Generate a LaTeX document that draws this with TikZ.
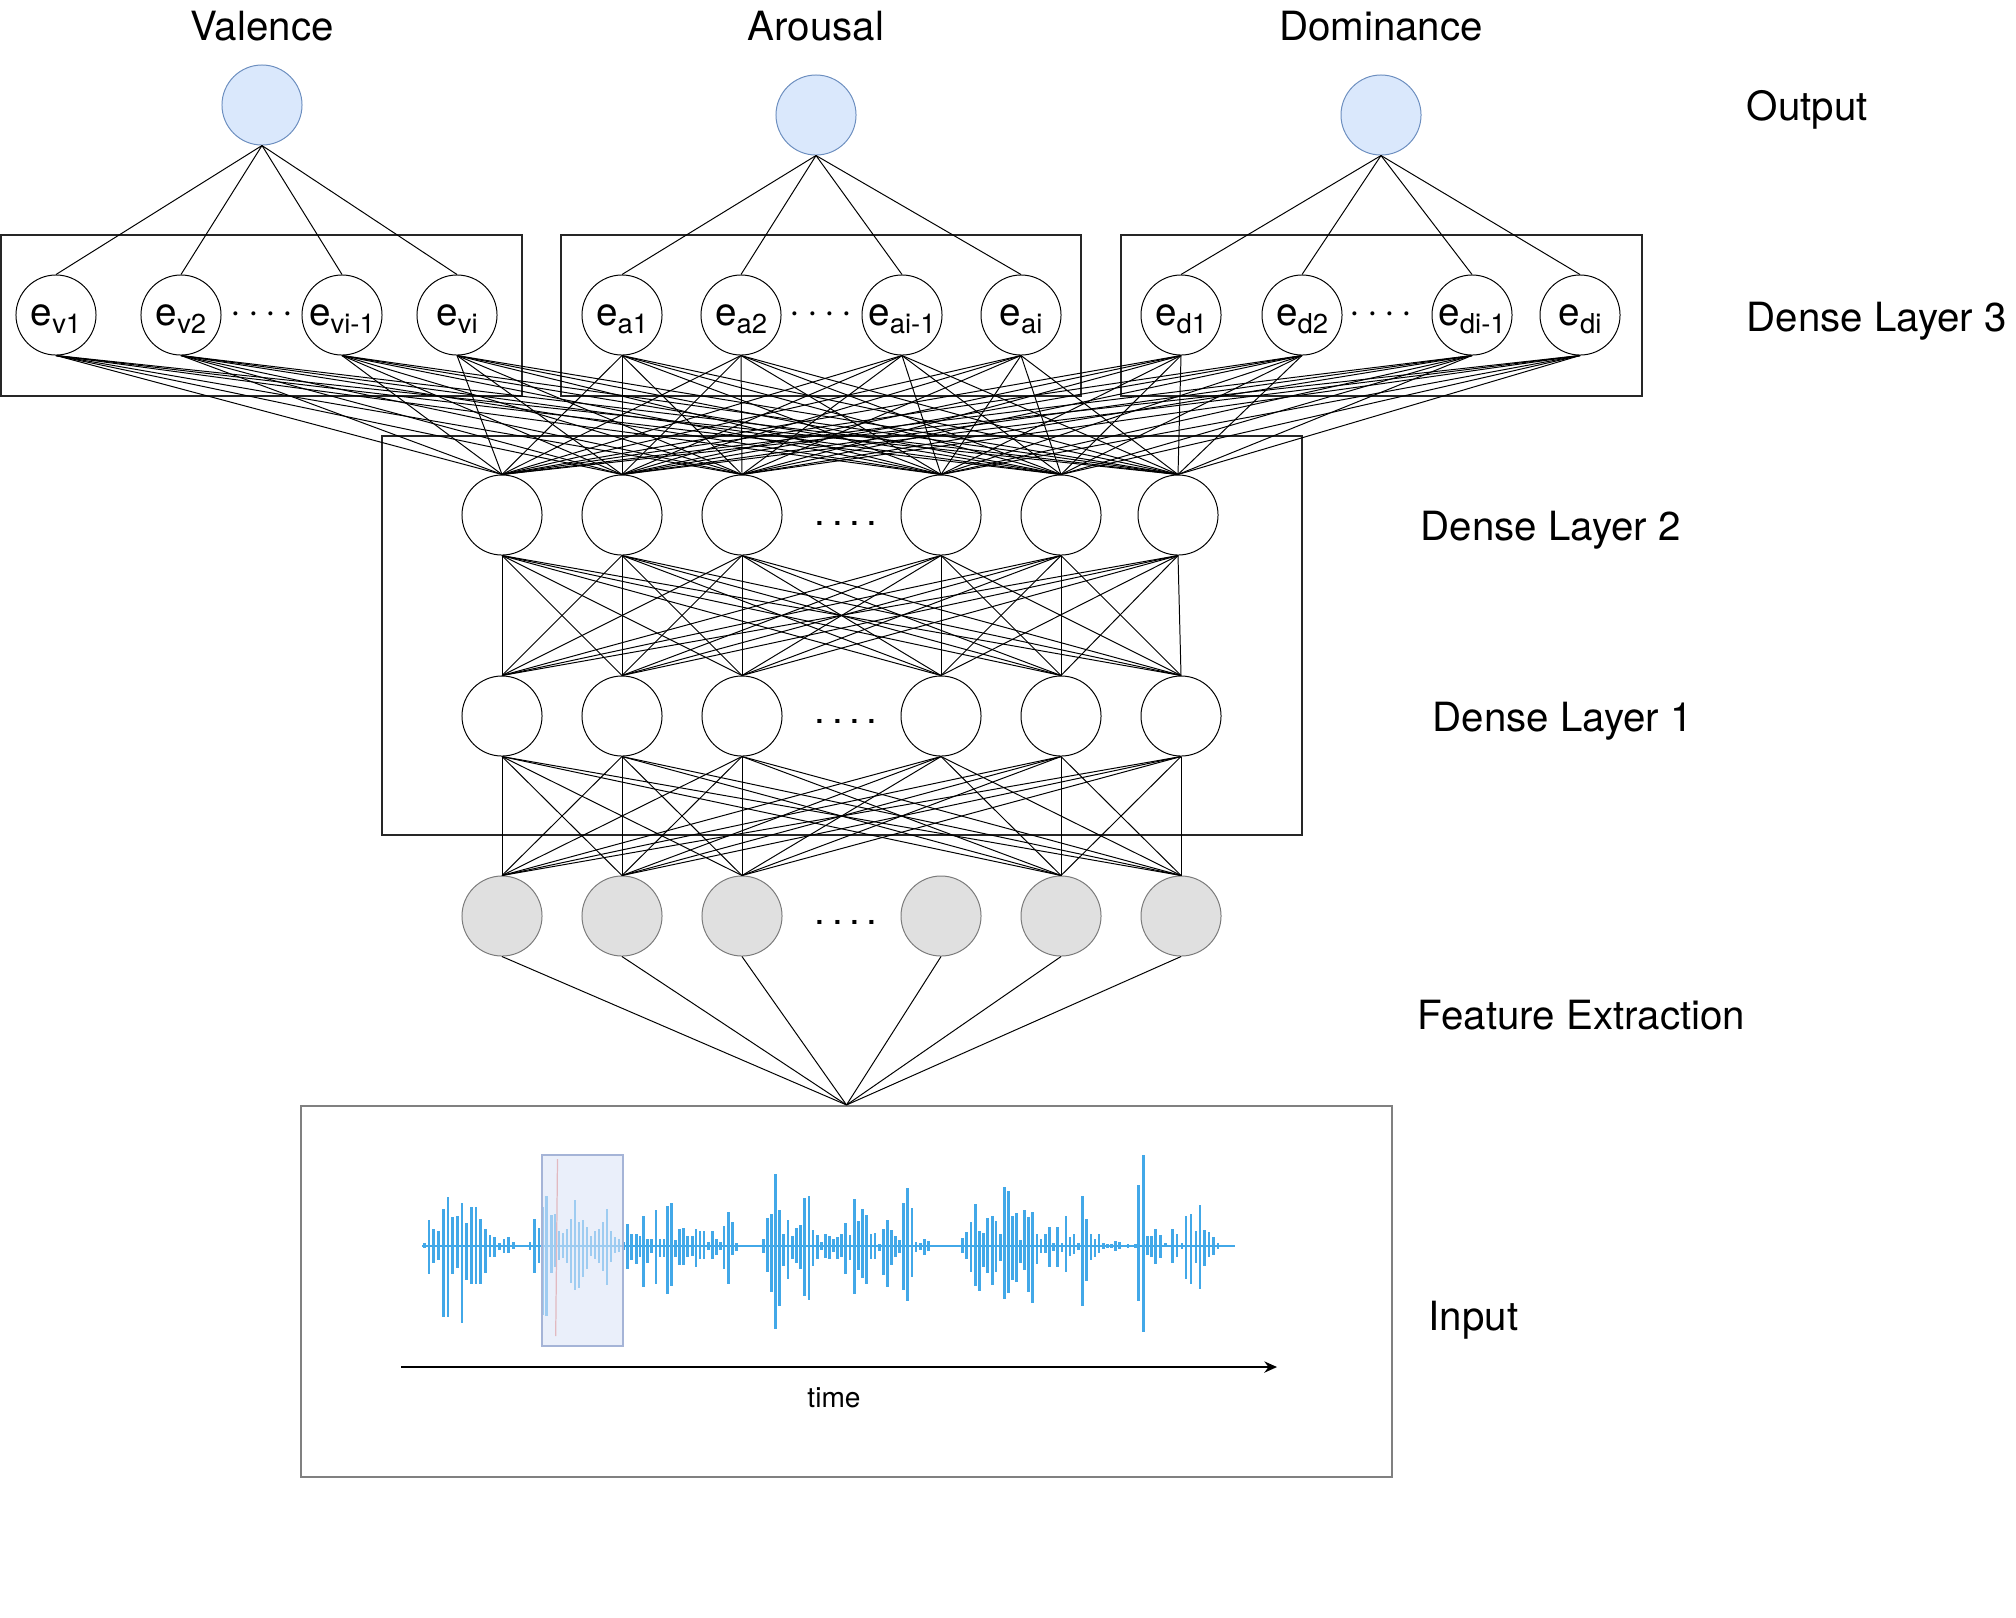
\documentclass[tikz,border=0pt]{standalone}
\usepackage{fontspec}
\setmainfont{TeX Gyre Heros}
\usetikzlibrary{arrows.meta, positioning}
\definecolor{outfill}{HTML}{DAE8FC}
\definecolor{outline}{HTML}{6C8EBF}
\definecolor{featfill}{HTML}{E0E0E0}
\definecolor{featline}{HTML}{7A7A7A}
\definecolor{wave}{RGB}{66,168,232}
\definecolor{winfill}{RGB}{220,229,247}
\definecolor{winline}{RGB}{165,180,215}
\definecolor{cursor}{RGB}{235,120,110}
\tikzset{
  neuron/.style={draw, circle, minimum size=0.8cm, inner sep=0pt, line width=0.28pt},
  outnode/.style={neuron, fill=outfill, draw=outline},
  enode/.style={neuron, font=\fontsize{11}{12}\selectfont, text depth=0pt},
  hidden/.style={neuron, fill=white},
  feat/.style={neuron, fill=featfill, draw=featline},
  groupbox/.style={draw=black!85, line width=0.5pt},
  inputbox/.style={draw=black!50, line width=0.55pt, minimum width=10.91cm, minimum height=3.71cm},
  link/.style={line width=0.28pt},
  sidelabel/.style={font=\fontsize{11.45}{13}\selectfont, anchor=base west, inner sep=0pt},
  toplabel/.style={font=\fontsize{11.45}{13}\selectfont, anchor=base, inner sep=0pt},
  dotrow/.style={font=\fontsize{11}{12}\selectfont, anchor=base, inner sep=0pt},
  wavebar/.style={draw=wave, line width=0.8pt},
  timeline/.style={-{Stealth[length=3.6pt, width=3.2pt]}, line width=0.55pt},
}
\newcommand{\esub}[1]{e\raisebox{-2.4pt}{\fontsize{7.8}{8}\selectfont #1}}

\begin{document}
\begin{tikzpicture}[x=0.01cm, y=-0.01cm]
  \useasboundingbox (0,0) rectangle (2016,1617);

  % boxes
  \draw[groupbox] (1,235) rectangle (522,396);
  \draw[groupbox] (561,235) rectangle (1081,396);
  \draw[groupbox] (1121,235) rectangle (1642,396);
  \draw[groupbox] (382,436) rectangle (1302,835);
  \node[inputbox] (input) at (846.5,1291.5) {};

  % output layer
  \node[toplabel] (valtxt) at (262,40) {Valence};
  \node[toplabel] (arotxt) at (816,40) {Arousal};
  \node[toplabel] (domtxt) at (1381,40) {Dominance};
  \node[outnode] (val) at (262,105) {};
  \node[outnode] (aro) at (816,115) {};
  \node[outnode] (dom) at (1381,115) {};

  % dense layer 3
  \foreach \i/\x/\lab in {1/56/v1, 2/181/v2, 3/342/vi-1, 4/457/vi,
                          5/622/a1, 6/741/a2, 7/902/ai-1, 8/1021/ai,
                          9/1181/d1, 10/1302/d2, 11/1472/di-1, 12/1580/di}
    \node[enode] (e\i) at (\x,315) {\esub{\lab}};
  \foreach \x in {262,821,1381}
    \node[dotrow] at (\x,323) {·\,·\,·\,·};

  % dense layers 2, 1 and features
  \foreach \i/\x in {1/502, 2/622, 3/742, 4/941, 5/1061, 6/1178}
    \node[hidden] (l2n\i) at (\x,515) {};
  \foreach \i/\x in {1/502, 2/622, 3/742, 4/941, 5/1061, 6/1181} {
    \node[hidden] (l1n\i) at (\x,716) {};
    \node[feat] (ft\i) at (\x,916) {};
  }
  \foreach \y in {525,723,924}
    \node[dotrow] at (846,\y) {.\,.\,.\,.};

  % connections
  \foreach \i in {1,...,4} \draw[link] (val.south) -- (e\i.north);
  \foreach \i in {5,...,8} \draw[link] (aro.south) -- (e\i.north);
  \foreach \i in {9,...,12} \draw[link] (dom.south) -- (e\i.north);
  \foreach \i in {1,...,12}
    \foreach \j in {1,...,6} \draw[link] (e\i.south) -- (l2n\j.north);
  \foreach \i in {1,...,6}
    \foreach \j in {1,...,6} \draw[link] (l2n\i.south) -- (l1n\j.north);
  \foreach \i in {1,...,6}
    \foreach \j in {1,2,3,5,6} \draw[link] (l1n\i.south) -- (ft\j.north);
  \foreach \i in {1,...,6} \draw[link] (ft\i.south) -- (input.north);

  % side labels
  \node[sidelabel] (outtxt) at (1746,120) {Output};
  \node[sidelabel] (d3txt) at (1746,331) {Dense Layer 3};
  \node[sidelabel] (d2txt) at (1420,540) {Dense Layer 2};
  \node[sidelabel] (d1txt) at (1432,731) {Dense Layer 1};
  \node[sidelabel] (fetxt) at (1417,1029) {Feature Extraction};
  \node[sidelabel] (intxt) at (1428,1330) {Input};

  % waveform
  \draw[wave, line width=0.65pt] (422,1246) -- (1235,1246);
  \foreach \x/\t/\b in {424.3/3/2, 429/26/28, 433.7/17/17, 438.7/15/14, 443.3/37/71,
      448/49/71, 452.7/29/28, 457.3/30/22, 462/43/77, 466.7/23/34, 471.3/39/38,
      476/39/38, 480.7/27/38, 485.3/17/27, 490/11/11, 494.7/9/11, 499.3/3/4,
      504/7/7, 508.7/9/7, 513.3/4/3,
      530/4/4, 534.7/27/27, 539/18/17, 542.7/39/69, 546.7/50/70, 551.3/31/27,
      555/32/21, 559/15/14, 563/13/12, 567/17/17, 571/27/37, 575/46/44, 579/24/42,
      583/26/31, 587/19/23, 591/10/10, 595/15/13, 599/17/17, 603/24/25, 607/37/39,
      611/15/16, 615/9/7, 619/7/6, 623.3/4/4, 627.3/22/23, 631.7/12/14, 636.3/12/18,
      640/10/11, 643.3/30/41, 647.7/7/17, 651.7/7/7, 656/36/38, 660/7/11, 664/7/11,
      667.7/40/48, 671.7/43/40, 675.7/6/11, 679.3/17/19, 683.3/18/19, 687.7/10/11,
      692.3/10/10, 696/17/21, 700/15/13, 704/15/13, 708.3/4/4, 712.3/15/13,
      716.7/7/9, 720.7/4/4, 724/20/23, 728.3/34/38, 732.3/24/9, 736.7/3/5,
      763.3/7/7, 767.7/28/26, 771.7/32/46, 775.7/72/83, 779.7/36/60, 783.7/12/20,
      788/26/33, 792.3/10/13, 796.3/18/17, 800.3/21/23, 804.7/48/50, 809/50/54,
      813/16/20, 817.3/11/13, 821.3/4/4, 825.3/12/12, 829.3/10/13, 833.3/7/6,
      837.7/9/13, 841.7/12/11, 845.7/23/28, 850/11/14, 854.3/47/48, 858.3/25/24,
      862.7/37/32, 866.7/31/38, 871/12/13, 875/13/13, 879.3/2/5, 883.3/17/29,
      887.3/26/41, 891.3/16/19, 895.3/10/11, 899.3/6/7, 903.7/43/44, 907.7/58/55,
      912/38/31, 916/4/6, 920.3/3/4, 924.3/7/9, 928.7/5/5,
      962.3/8/7, 966.7/14/13, 971/24/26, 975.3/42/40, 979.3/15/45, 983.3/13/21,
      987.7/28/27, 992.3/30/39, 996/25/26, 1000.3/12/15, 1004.3/59/53, 1008.3/55/47,
      1012.3/30/34, 1016.3/33/36, 1020.7/6/17, 1024.7/36/24, 1028.7/29/46,
      1032.7/34/57, 1037/12/18, 1041/7/7, 1045.3/12/7, 1049.3/19/21, 1053.3/3/5,
      1057.7/19/21, 1062/3/6, 1066/30/26, 1070/9/10, 1074/12/8, 1078.3/3/4,
      1082.7/50/60, 1086.7/27/35, 1091/12/14, 1095/7/11, 1099/12/7, 1103.3/3/3,
      1107.3/2/2, 1111.3/2/2, 1115.7/5/5, 1119.7/4/3, 1123.7/1/1, 1128/2/2,
      1135.7/2/2, 1138.3/61/55, 1143.3/91/86, 1147.3/10/9, 1151.3/10/11,
      1155.7/17/18, 1160.3/11/12, 1165.3/3/1, 1172.7/17/17, 1177/12/11, 1182/3/3,
      1186/30/33, 1191/32/38, 1196/15/17, 1200/41/43, 1204.7/16/20, 1209/14/11,
      1213.3/9/9, 1218/3/3}
    \draw[wavebar] (\x,1246-\t) -- (\x,1246+\b);

  % analysis window
  \draw[cursor, line width=0.35pt] (557.5,1159) -- (555.7,1336);
  \fill[winfill, fill opacity=0.6] (542,1155) rectangle (623,1346);
  \draw[winline, line width=0.55pt] (542,1155) rectangle (623,1346);

  % time axis
  \coordinate (t0) at (401,1367);
  \coordinate (t1) at (1277,1367);
  \draw[timeline] (t0) -- (t1);
  \node[toplabel, font=\fontsize{8}{9}\selectfont] (timetxt) at (834,1407) {time};
\end{tikzpicture}
\end{document}
